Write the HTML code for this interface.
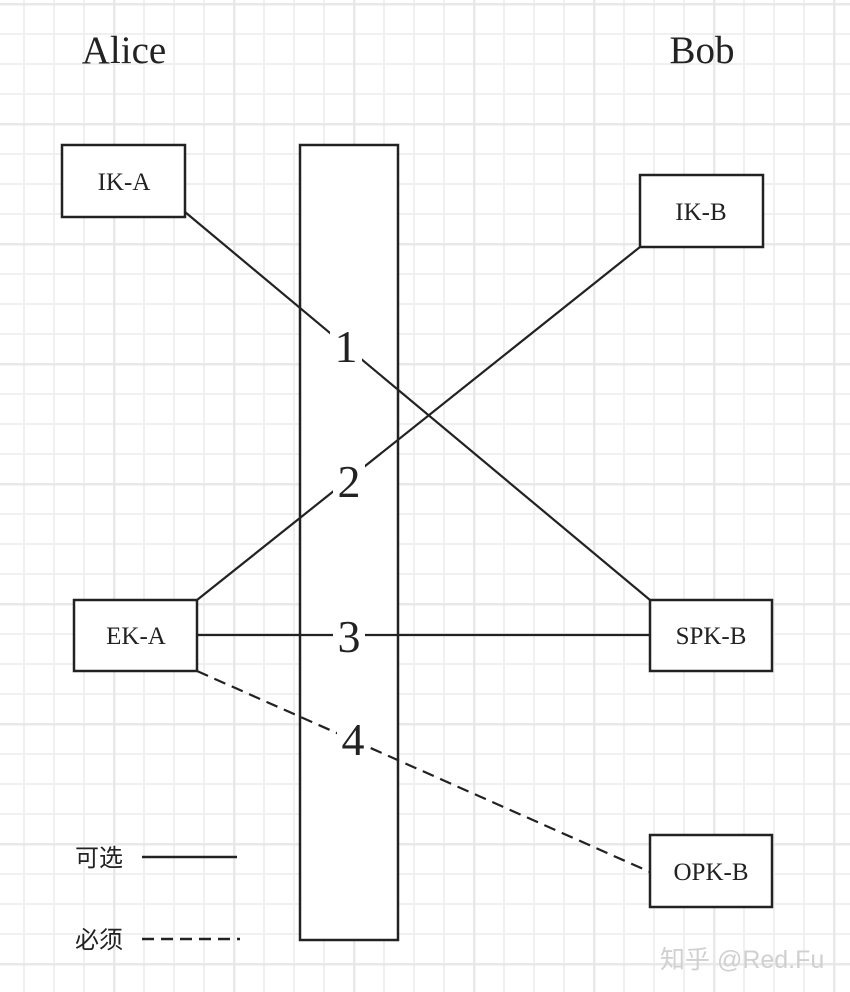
<!DOCTYPE html>
<html><head><meta charset="utf-8"><style>
html,body{margin:0;padding:0;background:#fff;}
svg{display:block}
</style></head><body>
<svg width="850" height="992" xmlns="http://www.w3.org/2000/svg">
<defs>
<pattern id="minor" x="23" y="3" width="30" height="30" patternUnits="userSpaceOnUse">
<path d="M1 0V30M0 1H30" stroke="#f0f0f0" stroke-width="2" fill="none"/>
</pattern>
<pattern id="major" x="113" y="3" width="120" height="120" patternUnits="userSpaceOnUse">
<path d="M1 0V120M0 1H120" stroke="#e8e8e8" stroke-width="3" fill="none"/>
</pattern>
</defs>
<rect width="850" height="992" fill="#fff"/>
<rect width="850" height="992" fill="url(#minor)"/>
<rect width="850" height="992" fill="url(#major)"/>

<g font-family="Liberation Serif, serif" fill="#222">
<text x="124" y="63" font-size="39" text-anchor="middle">Alice</text>
<text x="702" y="63" font-size="39" text-anchor="middle">Bob</text>
</g>

<g stroke="#222" stroke-width="2.5" fill="#fff">
<rect x="300" y="145" width="98" height="795"/>
<rect x="62" y="145" width="123" height="72"/>
<rect x="640" y="175" width="123" height="72"/>
<rect x="74" y="600" width="123" height="71"/>
<rect x="650" y="600" width="122" height="71"/>
<rect x="650" y="835" width="122" height="72"/>
</g>

<g stroke="#222" stroke-width="2.2" fill="none">
<line x1="185" y1="212" x2="650" y2="600"/>
<line x1="640" y1="247" x2="197" y2="600"/>
<line x1="197" y1="635" x2="650" y2="635"/>
<line x1="197" y1="671" x2="650" y2="872" stroke-dasharray="12,7"/>
</g>

<g fill="#fff">
<rect x="330" y="322" width="32" height="46"/>
<rect x="333" y="457" width="32" height="46"/>
<rect x="333" y="612" width="32" height="46"/>
<rect x="337" y="715" width="32" height="46"/>
</g>
<g font-family="Liberation Serif, serif" font-size="46" fill="#222" text-anchor="middle">
<text x="346" y="362">1</text>
<text x="349" y="497">2</text>
<text x="349" y="652">3</text>
<text x="353" y="755">4</text>
</g>

<g font-family="Liberation Serif, serif" font-size="25" fill="#222" text-anchor="middle">
<text x="124" y="190">IK-A</text>
<text x="701" y="220">IK-B</text>
<text x="136" y="644">EK-A</text>
<text x="711" y="644">SPK-B</text>
<text x="711" y="880">OPK-B</text>
</g>

<g font-family="Liberation Sans, Noto Sans CJK SC, sans-serif" font-size="24" fill="#222">
<text x="75" y="866">可选</text>
<text x="75" y="948">必须</text>
</g>
<line x1="142" y1="857" x2="237" y2="857" stroke="#222" stroke-width="2.5"/>
<line x1="142" y1="939" x2="240" y2="939" stroke="#222" stroke-width="2.5" stroke-dasharray="12,7"/>

<text x="660" y="968" font-family="Liberation Sans, Noto Sans CJK SC, sans-serif" font-size="25" fill="#d0d0d0">知乎 @Red.Fu</text>
</svg>
</body></html>
